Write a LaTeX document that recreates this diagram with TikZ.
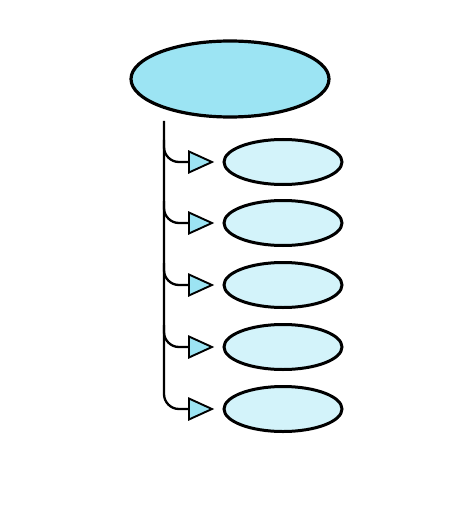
\documentclass[tikz,border=0pt]{standalone}
\usetikzlibrary{shapes.geometric}
\definecolor{topfill}{HTML}{9CE4F3}
\definecolor{subfill}{HTML}{D3F3FA}
\definecolor{trifill}{HTML}{9CE4F3}
\tikzset{
  mainell/.style={ellipse, draw=black, line width=3.2pt, fill=topfill, minimum width=198pt, minimum height=76pt, inner sep=0pt},
  subell/.style={ellipse, draw=black, line width=3pt, fill=subfill, minimum width=118pt, minimum height=45pt, inner sep=0pt},
  tri/.style={isosceles triangle, isosceles triangle stretches, draw=black, line width=1.9pt, fill=trifill, minimum width=21pt, minimum height=23pt, inner sep=0pt, anchor=west},
  conn/.style={draw=black, line width=2.3pt, rounded corners=15pt},
}
\begin{document}
\begin{tikzpicture}[x=1pt,y=-1pt]
\useasboundingbox (0,0) rectangle (474,505);
\fill[white] (0,0) rectangle (474,505);
\node[mainell] (top) at (230,79) {};
\foreach \i/\y in {1/162,2/223,3/285,4/347,5/409}{
  \node[subell] (e\i) at (283,\y) {};
  \node[tri] (t\i) at (188,\y) {};
}
\coordinate (trunk) at (164,121);
\draw[conn] (trunk) |- (t5.west);
\foreach \i/\y in {1/162,2/223,3/285,4/347}{
  \coordinate (b\i) at (164,\y-22);
  \draw[conn] (b\i) |- (t\i.west);
}
\end{tikzpicture}
\end{document}
